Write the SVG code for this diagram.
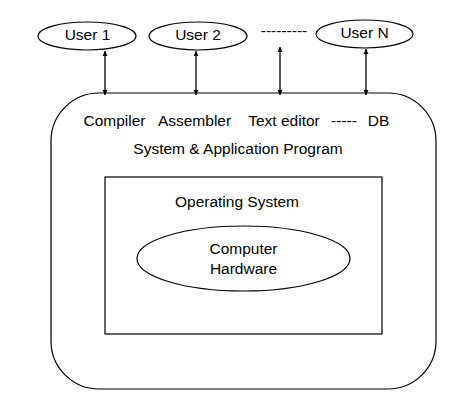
<svg xmlns="http://www.w3.org/2000/svg" width="464" height="410" viewBox="0 0 464 410">
<defs>
<style>
.shape{fill:none;stroke:#000;stroke-width:1.2}
.conn{fill:none;stroke:#000;stroke-width:1.3}
text{font-family:"Liberation Sans",Arial,sans-serif;font-size:15.5px;fill:#000;text-anchor:middle}
</style>
<marker id="ah" viewBox="0 0 10 10" refX="10" refY="5" markerWidth="5" markerHeight="6" markerUnits="userSpaceOnUse" orient="auto-start-reverse">
<path d="M0,0 L10,5 L0,10 z" fill="#000"/>
</marker>
</defs>
<rect width="464" height="410" fill="#fff"/>
<g id="system-app">
<rect class="shape" x="51" y="93" width="385" height="296" rx="48" ry="48"/>
<text x="114.5" y="126">Compiler</text>
<text x="194.5" y="126">Assembler</text>
<text x="284" y="126">Text editor</text>
<text x="344" y="126">-----</text>
<text x="378.5" y="126">DB</text>
<text x="238" y="154">System &amp; Application Program</text>
</g>
<g id="os">
<rect class="shape" x="105" y="177" width="277" height="157"/>
<text x="237" y="206.5">Operating System</text>
</g>
<g id="hardware">
<ellipse class="shape" cx="243.5" cy="258.5" rx="106.5" ry="32.5"/>
<text x="243.5" y="254">Computer</text>
<text x="243.5" y="274">Hardware</text>
</g>
<g id="user1">
<ellipse class="shape" cx="87" cy="36" rx="49" ry="14"/>
<text x="87.5" y="40">User 1</text>
</g>
<g id="user2">
<ellipse class="shape" cx="198" cy="36" rx="49" ry="14"/>
<text x="198" y="40">User 2</text>
</g>
<g id="users-more">
<text x="284" y="36">---------</text>
</g>
<g id="userN">
<ellipse class="shape" cx="364.5" cy="34" rx="48.5" ry="14"/>
<text x="364.5" y="38">User N</text>
</g>
<g id="connectors">
<line class="conn" x1="105" y1="51" x2="105" y2="95" marker-start="url(#ah)" marker-end="url(#ah)"/>
<line class="conn" x1="196" y1="51" x2="196" y2="95" marker-start="url(#ah)" marker-end="url(#ah)"/>
<line class="conn" x1="280" y1="47" x2="280" y2="95" marker-start="url(#ah)" marker-end="url(#ah)"/>
<line class="conn" x1="366" y1="49" x2="366" y2="95" marker-start="url(#ah)" marker-end="url(#ah)"/>
</g>
</svg>
